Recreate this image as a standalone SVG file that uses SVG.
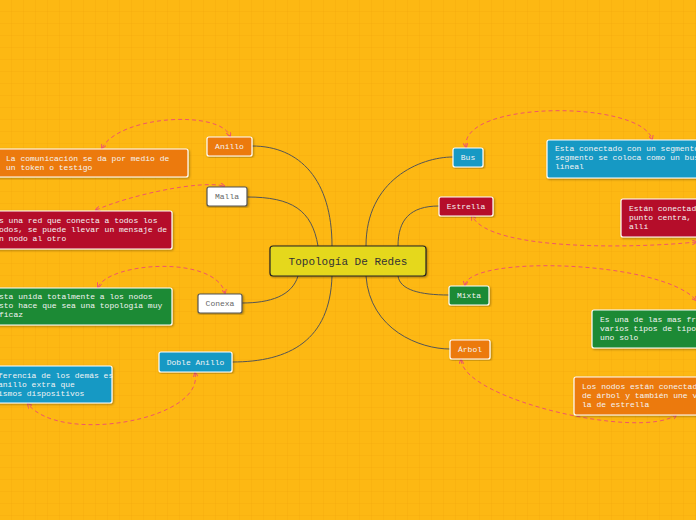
<svg xmlns="http://www.w3.org/2000/svg" width="696" height="520" viewBox="0 0 696 520">
<defs>
<pattern id="g" width="12" height="12" patternUnits="userSpaceOnUse"><path d="M12 0V12H0" fill="none" stroke="#F5A90F" stroke-width="0.7"/></pattern>
<marker id="a" viewBox="0 0 10 10" refX="8" refY="5" markerWidth="5" markerHeight="5" orient="auto-start-reverse"><path d="M0 0L10 5L0 10" fill="none" stroke="#F0566A" stroke-width="2"/></marker>
<filter id="s"><feDropShadow dx="1" dy="1" stdDeviation="0.8" flood-opacity="0.35"/></filter>
</defs>
<style>
.n rect{stroke:#fff;stroke-width:1.2;filter:url(#s)}
text{font-family:"Liberation Mono","DejaVu Sans Mono",monospace;font-size:8px;fill:#f4f4f4}
.c{text-anchor:middle}
.w rect{fill:#fff;stroke:#555}
.w text{fill:#666}
.o{fill:#EC7A10}.r{fill:#B5102B}.gr{fill:#1C8A35}.b{fill:#1599C4}
.l{fill:none;stroke:#555;stroke-width:1}
.d{fill:none;stroke:#F0566A;stroke-width:1;stroke-dasharray:4 3;marker-start:url(#a);marker-end:url(#a)}
</style>
<rect width="696" height="520" fill="#FDB813"/>
<rect width="696" height="520" fill="url(#g)"/>
<g id="connectors">
<path class="l" d="M332,246 C332,180 300,146 252,146"/>
<path class="l" d="M318,246 C312,210 292,197 247,197"/>
<path class="l" d="M298,276 C292,296 270,303 242,303"/>
<path class="l" d="M332,276 C330,340 290,362 232,362"/>
<path class="l" d="M366,246 C366,180 420,157 453,157"/>
<path class="l" d="M398,246 C398,220 410,206 439,206"/>
<path class="l" d="M398,276 C400,290 420,295 449,295"/>
<path class="l" d="M366,276 C370,330 420,349 450,349"/>
<path class="d" d="M102,148 C120,115 220,110 230,136"/>
<path class="d" d="M96,210 C130,195 200,180 224,186"/>
<path class="d" d="M98,287 C110,262 215,255 225,293"/>
<path class="d" d="M195,373 C205,420 60,445 28,404"/>
<path class="d" d="M466,147 C460,100 640,100 652,139"/>
<path class="d" d="M696,242 C640,248 490,252 472,216"/>
<path class="d" d="M465,285 C470,255 660,260 696,300"/>
<path class="d" d="M461,360 C465,400 640,440 676,415"/>
</g>
<g id="center"><rect x="270" y="246" width="156" height="30" rx="3" fill="#E5D81F" stroke="#222" stroke-width="1.2" filter="url(#s)"/><text x="348" y="265" class="c" style="font-size:11px;fill:#333">Topología De Redes</text></g>
<g id="anillo" class="n"><rect x="207" y="137" width="45" height="19" rx="2" class="o"/><text x="229.5" y="149" class="c">Anillo</text></g>
<g id="malla" class="n w"><rect x="207" y="187" width="40" height="19" rx="2"/><text x="227" y="199" class="c">Malla</text></g>
<g id="conexa" class="n w"><rect x="198" y="294" width="44" height="19" rx="2"/><text x="220" y="306" class="c">Conexa</text></g>
<g id="doble" class="n"><rect x="159" y="352" width="73" height="20" rx="2" class="b"/><text x="195.5" y="365" class="c">Doble Anillo</text></g>
<g id="bus" class="n"><rect x="453" y="148" width="30" height="19" rx="2" class="b"/><text x="468" y="160" class="c">Bus</text></g>
<g id="estrella" class="n"><rect x="439" y="197" width="54" height="19" rx="2" class="r"/><text x="466" y="209" class="c">Estrella</text></g>
<g id="mixta" class="n"><rect x="449" y="286" width="40" height="19" rx="2" class="gr"/><text x="469" y="298" class="c">Mixta</text></g>
<g id="arbol" class="n"><rect x="450" y="340" width="40" height="19" rx="2" class="o"/><text x="470" y="352" class="c">Árbol</text></g>
<g id="d-anillo" class="n"><rect x="-10" y="149" width="198" height="28" rx="2" class="o"/><text x="6" y="161">La comunicación se da por medio de</text><text x="6" y="170">un token o testigo</text></g>
<g id="d-malla" class="n"><rect x="-10" y="211" width="182" height="38" rx="2" class="r"/><text x="-1" y="223">s una red que conecta a todos los</text><text x="-1" y="232">odos, se puede llevar un mensaje de</text><text x="-1" y="241">n nodo al otro</text></g>
<g id="d-conexa" class="n"><rect x="-10" y="288" width="182" height="37" rx="2" class="gr"/><text x="-1" y="299">sta unida totalmente a los nodos</text><text x="-1" y="308">sto hace que sea una topologia muy</text><text x="-1" y="317">ficaz</text></g>
<g id="d-doble" class="n"><rect x="-10" y="366" width="122" height="37" rx="2" class="b"/><text x="-2" y="378">ferencia de los demás es</text><text x="-2" y="387">anillo extra que</text><text x="-2" y="396">ismos dispositivos</text></g>
<g id="d-bus" class="n"><rect x="547" y="140" width="160" height="38" rx="2" class="b"/><text x="555" y="151">Esta conectado con un segmento</text><text x="555" y="160">segmento se coloca como un bus</text><text x="555" y="169">lineal</text></g>
<g id="d-estrella" class="n"><rect x="621" y="199" width="90" height="38" rx="2" class="r"/><text x="629" y="211">Están conectad</text><text x="629" y="220">punto centra,</text><text x="629" y="229">allí</text></g>
<g id="d-mixta" class="n"><rect x="592" y="310" width="110" height="38" rx="2" class="gr"/><text x="600" y="322">Es una de las mas fr</text><text x="600" y="331">varios tipos de tipo</text><text x="600" y="340">uno solo</text></g>
<g id="d-arbol" class="n"><rect x="574" y="377" width="130" height="38" rx="2" class="o"/><text x="582" y="389">Los nodos están conectad</text><text x="582" y="398">de árbol y también une v</text><text x="582" y="407">la de estrella</text></g>
</svg>
